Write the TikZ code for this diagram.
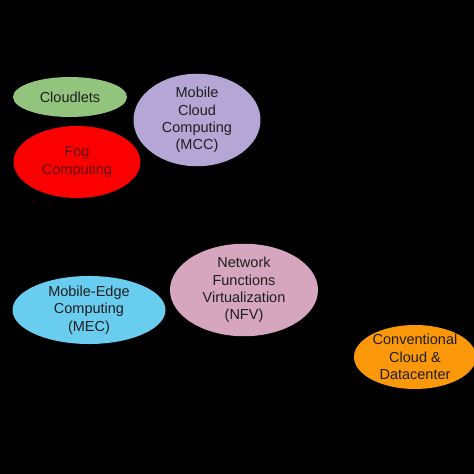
\documentclass[tikz,border=0pt]{standalone}
\usepackage{fontspec}
\setmainfont{Liberation Sans}
\usetikzlibrary{shapes.geometric}
\definecolor{cgreen}{RGB}{147,196,125}
\definecolor{clav}{RGB}{180,167,214}
\definecolor{cred}{RGB}{250,0,0}
\definecolor{cblue}{RGB}{105,205,240}
\definecolor{cpink}{RGB}{213,166,189}
\definecolor{corange}{RGB}{250,152,10}
\definecolor{ctext}{RGB}{30,30,30}
\definecolor{cfogtext}{RGB}{100,8,8}
\begin{document}
\begin{tikzpicture}[x=1pt,y=1pt,
  blob/.style={ellipse,inner sep=0pt,outer sep=0pt,align=center,text=ctext,
    font=\fontsize{14.5}{17.3}\selectfont}]
\fill[black] (0,0) rectangle (474,474);
\useasboundingbox (0,0) rectangle (474,474);
\node[blob,fill=cgreen,minimum width=114pt,minimum height=40pt] (cl) at (70,377) {Cloudlets};
\node[blob,fill=clav,minimum width=127pt,minimum height=79pt] (mcc) at (197,354) {Mobile\\Cloud\\Computing\\(MCC)};
\node[blob,fill=cred,text=cfogtext,minimum width=127pt,minimum height=72pt] (fog) at (77,312) {Fog\\Computing};
\node[blob,fill=cblue,minimum width=153pt,minimum height=65pt] (mec) at (89,164) {Mobile-Edge\\Computing\\(MEC)};
\node[blob,fill=cpink,minimum width=148pt,minimum height=80pt] (nfv) at (244,184) {Network\\Functions\\Virtualization\\(NFV)};
\node[blob,fill=corange,minimum width=122pt,minimum height=64pt] (cc) at (415,117) {Conventional\\Cloud \&\\Datacenter};
\end{tikzpicture}
\end{document}
